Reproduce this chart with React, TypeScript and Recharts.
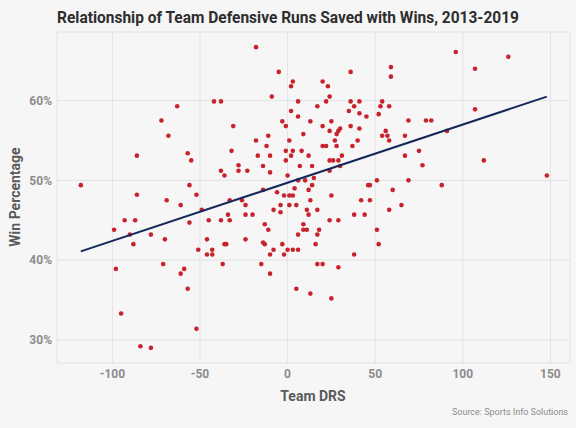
import { ScatterChart, Scatter, XAxis, YAxis, CartesianGrid } from "recharts"

// team defensive runs saved, one entry per team-season
const drs = [
  -63, -42, -38, -72, -31, -68, -86, -57, -55, -32, -28, -28, -38, -36, -118, -56,
  -86, -52, -69, -61, -93, -87, -99, -90, -78, -88, -70, -56, -49, -45, -38, -34,
  -33, -33, -46, -51, -46, -43, -43, -36, -35, -37, -98, -71, -61, -59, -57, -95,
  -52, -84, -78,
  -18, -5, 36, 3, 2, 20, 23, -9, 24, 6, 22, 36, 41, 17, 38, 2, 35, 41, 45, 6, -3,
  13, 25, -1, 20, 36, 41, 24, 30, 29, 28, 9, -11, -18, 1, 27, 40, -12, 20, 22, 28,
  37, -1, 3, 8, -17, -10, 2, 12, 31, -1, 24, 26, 29, -14, 7, 14, 30,
  -23, -10, 0, 24, 6, 10, 15, 14, 4, 12, -14, -6, -2, 1, 3, 25, 46, 47, -26, -24,
  13, 42, 47, -24, -20, -8, -4, -4, 1, 5, 11, 17, 12, 24, 29, 38, 44, -13, -11, 9,
  9, 11, 18, 6, 17, -24, -14, -13, -3, 16, -8, 0, 3, 6, -10, -2, 38, -15, 17, 20,
  29, -10, 5, 13, 25,
  96, 126, 107, 59, 59, 54, 53, 58, 52, 69, 79, 82, 107, 56, 54, 57, 58, 67, 91,
  75, 67, 77, 112, 69, 51, 88, 148, 60, 65, 58, 51, 52,
]

// matching win percentage
const winPct = [
  0.593, 0.599, 0.599, 0.575, 0.568, 0.556, 0.531, 0.534, 0.525, 0.537, 0.519, 0.512, 0.512, 0.506, 0.494, 0.494,
  0.482, 0.482, 0.475, 0.469, 0.45, 0.45, 0.438, 0.432, 0.432, 0.42, 0.426, 0.447, 0.463, 0.45, 0.45, 0.457,
  0.45, 0.475, 0.426, 0.413, 0.407, 0.413, 0.407, 0.42, 0.42, 0.395, 0.389, 0.395, 0.383, 0.389, 0.364, 0.333,
  0.314, 0.292, 0.29,
  0.667, 0.636, 0.636, 0.624, 0.618, 0.624, 0.618, 0.605, 0.605, 0.599, 0.599, 0.599, 0.599, 0.593, 0.593, 0.587,
  0.587, 0.584, 0.58, 0.58, 0.574, 0.574, 0.574, 0.568, 0.568, 0.568, 0.565, 0.562, 0.565, 0.562, 0.558, 0.558,
  0.556, 0.55, 0.55, 0.55, 0.55, 0.543, 0.543, 0.543, 0.543, 0.543, 0.537, 0.537, 0.537, 0.531, 0.531, 0.531,
  0.531, 0.531, 0.525, 0.525, 0.525, 0.525, 0.518, 0.518, 0.518, 0.518,
  0.512, 0.51, 0.506, 0.512, 0.5, 0.5, 0.503, 0.494, 0.49, 0.488, 0.488, 0.485, 0.481, 0.481, 0.481, 0.481,
  0.494, 0.494, 0.475, 0.469, 0.475, 0.475, 0.475, 0.457, 0.457, 0.463, 0.469, 0.46, 0.469, 0.469, 0.463, 0.463,
  0.457, 0.45, 0.45, 0.457, 0.457, 0.445, 0.438, 0.445, 0.438, 0.438, 0.438, 0.432, 0.432, 0.426, 0.422, 0.42,
  0.42, 0.42, 0.413, 0.413, 0.413, 0.413, 0.407, 0.407, 0.407, 0.395, 0.395, 0.395, 0.391, 0.383, 0.364, 0.358,
  0.352,
  0.661, 0.655, 0.64, 0.642, 0.63, 0.599, 0.593, 0.593, 0.583, 0.575, 0.575, 0.575, 0.589, 0.562, 0.556, 0.556,
  0.55, 0.556, 0.562, 0.537, 0.531, 0.519, 0.525, 0.5, 0.5, 0.494, 0.506, 0.488, 0.469, 0.463, 0.438, 0.42,
]

const xTicks = [-100, -50, 0, 50, 100, 150]
const yTicks = [0.3, 0.4, 0.5, 0.6]

// fitted line at its two ends
const trendDrs = [-118, 148]
const trendWinPct = [0.411, 0.605]

const teams = drs.map((d, i) => ({ drs: d, winPct: winPct[i] }))
const trend = trendDrs.map((d, i) => ({ drs: d, winPct: trendWinPct[i] }))

const FONT = "Roboto, sans-serif"
const tickStyle = { fill: "#8c8c8c", fontSize: 12, fontWeight: 700, fontFamily: FONT }

export default function App() {
  return (
    <div style={{ position: "fixed", left: 0, top: 0, width: 576, height: 428, background: "#f6f6f6" }}>
      <ScatterChart width={576} height={428} margin={{ top: 32, right: 6, bottom: 35, left: 0 }}>
        <CartesianGrid stroke="#e2e2e2" strokeWidth={1} />
        <XAxis
          type="number"
          dataKey="drs"
          domain={[-131.6, 161.2]}
          ticks={xTicks}
          interval={0}
          allowDataOverflow
          axisLine={false}
          tickLine={false}
          tickSize={0}
          tickMargin={6}
          height={30}
          tick={tickStyle}
        />
        <YAxis
          type="number"
          dataKey="winPct"
          domain={[0.271, 0.686]}
          ticks={yTicks}
          interval={0}
          allowDataOverflow
          axisLine={false}
          tickLine={false}
          tickSize={0}
          tickMargin={5}
          width={57}
          tick={tickStyle}
          tickFormatter={(v: number) => `${Math.round(v * 100)}%`}
        />
        <Scatter
          data={teams}
          isAnimationActive={false}
          shape={(p: any) => <circle cx={p.cx} cy={p.cy} r={2.3} fill="#c8232c" />}
        />
        <Scatter
          data={trend}
          isAnimationActive={false}
          line={{ stroke: "#14295a", strokeWidth: 2 }}
          shape={() => <g />}
        />
      </ScatterChart>
      <svg
        width={576}
        height={428}
        style={{ position: "absolute", left: 0, top: 0, pointerEvents: "none" }}
      >
        <text
          x={57}
          y={23}
          textLength={462}
          lengthAdjust="spacingAndGlyphs"
          fontFamily={FONT}
          fontSize={17}
          fontWeight={700}
          fill="#2e2e2e"
        >
          Relationship of Team Defensive Runs Saved with Wins, 2013-2019
        </text>
        <text
          x={313}
          y={401}
          textAnchor="middle"
          fontFamily={FONT}
          fontSize={14}
          fontWeight={700}
          fill="#5a5a5a"
        >
          Team DRS
        </text>
        <text
          transform="translate(20,197) rotate(-90)"
          textAnchor="middle"
          fontFamily={FONT}
          fontSize={14}
          fontWeight={700}
          fill="#5a5a5a"
        >
          Win Percentage
        </text>
        <text
          x={568}
          y={415}
          textAnchor="end"
          textLength={116}
          lengthAdjust="spacingAndGlyphs"
          fontFamily={FONT}
          fontSize={8.5}
          fill="#8c8c8c"
        >
          Source: Sports Info Solutions
        </text>
      </svg>
    </div>
  )
}
